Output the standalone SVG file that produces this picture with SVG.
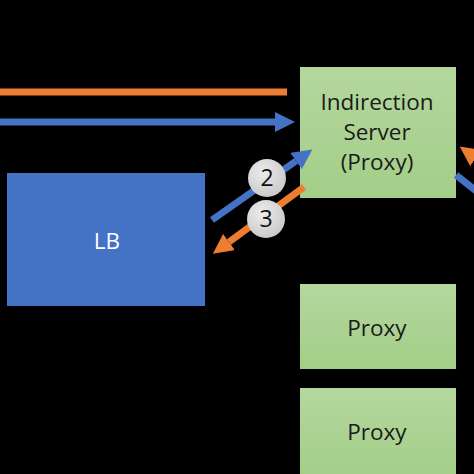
<svg xmlns="http://www.w3.org/2000/svg" width="474" height="474" viewBox="0 0 474 474">
<defs>
<linearGradient id="green" x1="0" y1="0" x2="0" y2="1">
<stop offset="0" stop-color="#b4d79e"/>
<stop offset="1" stop-color="#a3ce88"/>
</linearGradient>
<radialGradient id="gray" cx="0.4" cy="0.35" r="0.7">
<stop offset="0" stop-color="#ececec"/>
<stop offset="1" stop-color="#c8c8c8"/>
</radialGradient>
<marker id="hb" markerUnits="userSpaceOnUse" viewBox="0 0 20 20" refX="0" refY="10" markerWidth="20" markerHeight="20" orient="auto">
<path d="M0,0 L20,10 L0,20 Z" fill="#4472c4"/>
</marker>
<marker id="ho" markerUnits="userSpaceOnUse" viewBox="0 0 20 20" refX="0" refY="10" markerWidth="20" markerHeight="20" orient="auto">
<path d="M0,0 L20,10 L0,20 Z" fill="#ed7d31"/>
</marker>
</defs>
<style>
.box{fill:url(#green);}
.t{font-family:"Open Sans","Liberation Sans",sans-serif;font-size:22.5px;text-anchor:middle;fill:#1a1a1a;}
.lb{fill:#4472c4;}
.blue{stroke:#4472c4;stroke-width:7;fill:none;}
.orange{stroke:#ed7d31;stroke-width:7;fill:none;}
.c{fill:url(#gray);}
.n{font-family:"Open Sans","Liberation Sans",sans-serif;font-size:23px;text-anchor:middle;fill:#111;}
</style>
<rect width="474" height="474" fill="#000"/>
<g id="indirection-server">
<rect class="box" x="300" y="67" width="156" height="131"/>
<text class="t" x="377" y="110">Indirection</text>
<text class="t" x="377" y="140">Server</text>
<text class="t" x="377" y="170">(Proxy)</text>
</g>
<g id="proxy1">
<rect class="box" x="300" y="284" width="156" height="85"/>
<text class="t" x="377" y="336">Proxy</text>
</g>
<g id="proxy2">
<rect class="box" x="300" y="388" width="156" height="90"/>
<text class="t" x="377" y="440">Proxy</text>
</g>
<g id="lb">
<rect class="lb" x="7" y="173" width="198" height="133"/>
<text class="t" x="107" y="249" style="fill:#fff">LB</text>
</g>
<g id="connectors">
<line class="orange" x1="0" y1="92" x2="287" y2="92"/>
<line class="blue" x1="0" y1="122" x2="275" y2="122" marker-end="url(#hb)"/>
<line class="blue" x1="212" y1="220" x2="296" y2="161" marker-end="url(#hb)"/>
<line class="orange" x1="304" y1="187" x2="229" y2="242" marker-end="url(#ho)"/>
<line class="orange" x1="490" y1="168" x2="476" y2="158" marker-end="url(#ho)"/>
<line class="blue" x1="456" y1="175" x2="480" y2="194"/>
</g>
<g id="step2">
<circle class="c" cx="267" cy="178" r="19"/>
<text class="n" x="267" y="186">2</text>
</g>
<g id="step3">
<circle class="c" cx="266" cy="219" r="19"/>
<text class="n" x="266" y="227">3</text>
</g>
</svg>
